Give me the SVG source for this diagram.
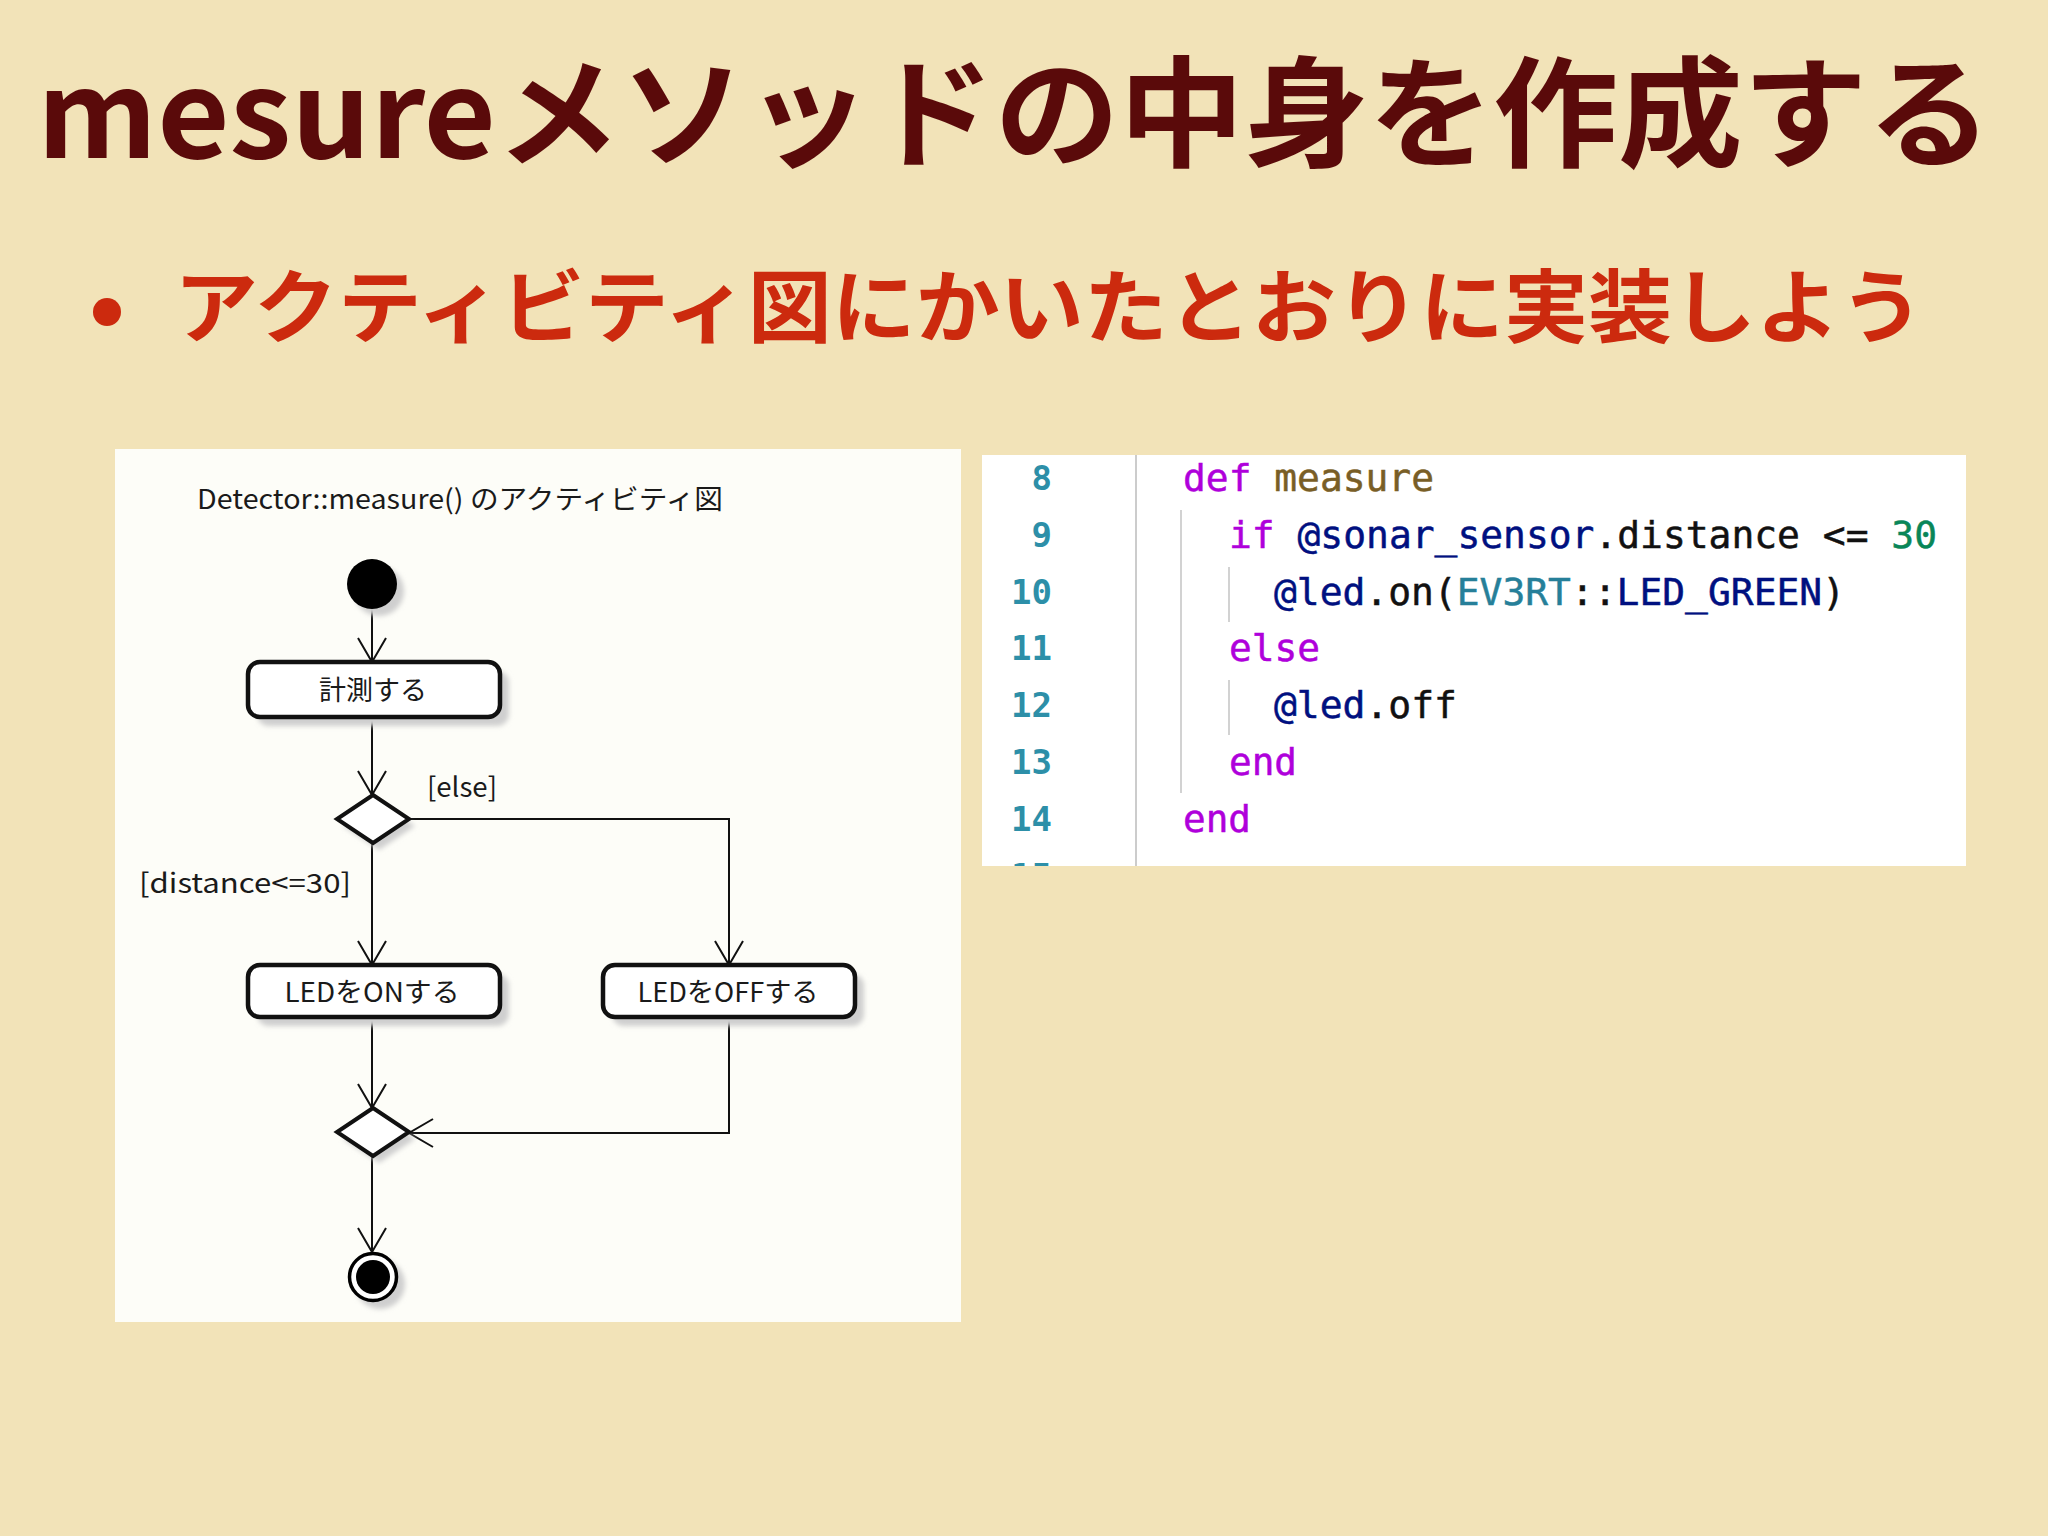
<svg xmlns="http://www.w3.org/2000/svg" width="2048" height="1536" viewBox="0 0 2048 1536">
<defs>
<style>
.title{font-family:"Noto Sans CJK JP","Liberation Sans",sans-serif;font-weight:bold;font-size:120px;fill:#5a0a0a}
.sub{font-family:"Noto Sans CJK JP","Liberation Sans",sans-serif;font-weight:bold;font-size:80px;fill:#cc2a0e}
.lbl{font-family:"Noto Sans CJK JP","Liberation Sans",sans-serif;font-size:27px;fill:#1a1a1a}
.act{fill:#ffffff;stroke:#111;stroke-width:4.5}
.dia{fill:#ffffff;stroke:#111;stroke-width:4}
.shd{fill:#cfcfcf;filter:url(#blur)}
.conn{fill:none;stroke:#111;stroke-width:2}
.code{font-family:"DejaVu Sans Mono","Liberation Mono",monospace;font-size:38px;fill:#111;stroke:#111;stroke-width:0.5}
.ln{font-family:"DejaVu Sans Mono","Liberation Mono",monospace;font-size:34px;font-weight:bold;fill:#2d8fa8;text-anchor:end}
.kw{fill:#af00db;stroke:#af00db}.fn{fill:#795e26;stroke:#795e26}.iv{fill:#001080;stroke:#001080}.num{fill:#098658;stroke:#098658}.cls{fill:#267f99;stroke:#267f99}
.guide{stroke:#d2d2d2;stroke-width:2}
</style>
<filter id="blur" x="-20%" y="-20%" width="140%" height="140%"><feGaussianBlur stdDeviation="2.5"/></filter>
<marker id="v" markerWidth="30" markerHeight="32" refX="26" refY="16" orient="auto" markerUnits="userSpaceOnUse" viewBox="0 0 30 32">
<path d="M2,2 L26,16 L2,30" fill="none" stroke="#111" stroke-width="2"/>
</marker>
<clipPath id="codeclip"><rect x="982" y="455" width="984" height="411"/></clipPath>
</defs>
<rect x="0" y="0" width="2048" height="1536" fill="#f2e3b8"/>

<text class="title" x="37" y="158" textLength="1955" lengthAdjust="spacingAndGlyphs">mesureメソッドの中身を作成する</text>
<circle cx="107" cy="312" r="14" fill="#cc2a0e"/>
<text class="sub" x="174" y="336" textLength="1750" lengthAdjust="spacingAndGlyphs">アクティビティ図にかいたとおりに実装しよう</text>

<!-- activity diagram panel -->
<rect x="115" y="449" width="846" height="873" fill="#fdfdf8"/>
<text class="lbl" x="197" y="509" textLength="526" lengthAdjust="spacingAndGlyphs">Detector::measure() のアクティビティ図</text>

<g id="connectors">
<line class="conn" x1="372" y1="609" x2="372" y2="662" marker-end="url(#v)"/>
<line class="conn" x1="372" y1="717" x2="372" y2="795" marker-end="url(#v)"/>
<path class="conn" d="M409,819 H729 V965" marker-end="url(#v)"/>
<line class="conn" x1="372" y1="843" x2="372" y2="965" marker-end="url(#v)"/>
<line class="conn" x1="372" y1="1017" x2="372" y2="1108" marker-end="url(#v)"/>
<path class="conn" d="M729,1017 V1133 H409" marker-end="url(#v)"/>
<line class="conn" x1="372" y1="1156" x2="372" y2="1252" marker-end="url(#v)"/>
<text class="lbl" x="427" y="797" textLength="70" lengthAdjust="spacingAndGlyphs">[else]</text>
<text class="lbl" x="139" y="893" textLength="212" lengthAdjust="spacingAndGlyphs">[distance&lt;=30]</text>
</g>

<g id="start">
<circle class="shd" cx="379" cy="591" r="25"/>
<circle cx="372" cy="584" r="25" fill="#000"/>
</g>

<g id="measure">
<rect class="shd" x="257" y="671" width="252" height="55" rx="12"/>
<rect class="act" x="248" y="662" width="252" height="55" rx="12"/>
<text class="lbl" x="373" y="700" text-anchor="middle">計測する</text>
</g>

<g id="decision">
<polygon class="shd" points="379,802 415,826 379,850 343,826"/>
<polygon class="dia" points="373,795 409,819 373,843 337,819"/>
</g>

<g id="ledon">
<rect class="shd" x="257" y="974" width="252" height="52" rx="12"/>
<rect class="act" x="248" y="965" width="252" height="52" rx="12"/>
<text class="lbl" x="372" y="1002" text-anchor="middle" textLength="175" lengthAdjust="spacingAndGlyphs">LEDをONする</text>
</g>

<g id="ledoff">
<rect class="shd" x="612" y="974" width="252" height="52" rx="12"/>
<rect class="act" x="603" y="965" width="252" height="52" rx="12"/>
<text class="lbl" x="728" y="1002" text-anchor="middle" textLength="181" lengthAdjust="spacingAndGlyphs">LEDをOFFする</text>
</g>

<g id="merge">
<polygon class="shd" points="379,1115 415,1139 379,1163 343,1139"/>
<polygon class="dia" points="373,1108 409,1132 373,1156 337,1132"/>
</g>

<g id="end">
<circle class="shd" cx="380" cy="1284" r="25"/>
<circle cx="373" cy="1277" r="23.5" fill="#fff" stroke="#000" stroke-width="3.5"/>
<circle cx="373" cy="1277" r="17" fill="#000"/>
</g>

<!-- code panel -->
<g id="code">
<rect x="982" y="455" width="984" height="411" fill="#ffffff"/>
<line x1="1136" y1="455" x2="1136" y2="866" stroke="#cccccc" stroke-width="2"/>
<line class="guide" x1="1181" y1="510" x2="1181" y2="793"/>
<line class="guide" x1="1229" y1="567" x2="1229" y2="622"/>
<line class="guide" x1="1229" y1="680" x2="1229" y2="735"/>
<text class="ln" x="1052" y="490">8</text>
<text class="ln" x="1052" y="546.8">9</text>
<text class="ln" x="1052" y="603.6">10</text>
<text class="ln" x="1052" y="660.4">11</text>
<text class="ln" x="1052" y="717.2">12</text>
<text class="ln" x="1052" y="774">13</text>
<text class="ln" x="1052" y="830.8">14</text>
<g clip-path="url(#codeclip)"><text class="ln" x="1052" y="887.6">15</text></g>
<text class="code" x="1183" y="491" textLength="251" lengthAdjust="spacingAndGlyphs"><tspan class="kw">def</tspan> <tspan class="fn">measure</tspan></text>
<text class="code" x="1229" y="547.8" textLength="708" lengthAdjust="spacingAndGlyphs"><tspan class="kw">if</tspan> <tspan class="iv">@sonar_sensor</tspan>.distance &lt;= <tspan class="num">30</tspan></text>
<text class="code" x="1274" y="604.6" textLength="571" lengthAdjust="spacingAndGlyphs"><tspan class="iv">@led</tspan>.on(<tspan class="cls">EV3RT</tspan>::<tspan class="iv">LED_GREEN</tspan>)</text>
<text class="code" x="1229" y="661.4" textLength="91" lengthAdjust="spacingAndGlyphs"><tspan class="kw">else</tspan></text>
<text class="code" x="1274" y="718.2" textLength="183" lengthAdjust="spacingAndGlyphs"><tspan class="iv">@led</tspan>.off</text>
<text class="code" x="1229" y="775" textLength="68" lengthAdjust="spacingAndGlyphs"><tspan class="kw">end</tspan></text>
<text class="code" x="1183" y="831.8" textLength="68" lengthAdjust="spacingAndGlyphs"><tspan class="kw">end</tspan></text>
</g>
</svg>
